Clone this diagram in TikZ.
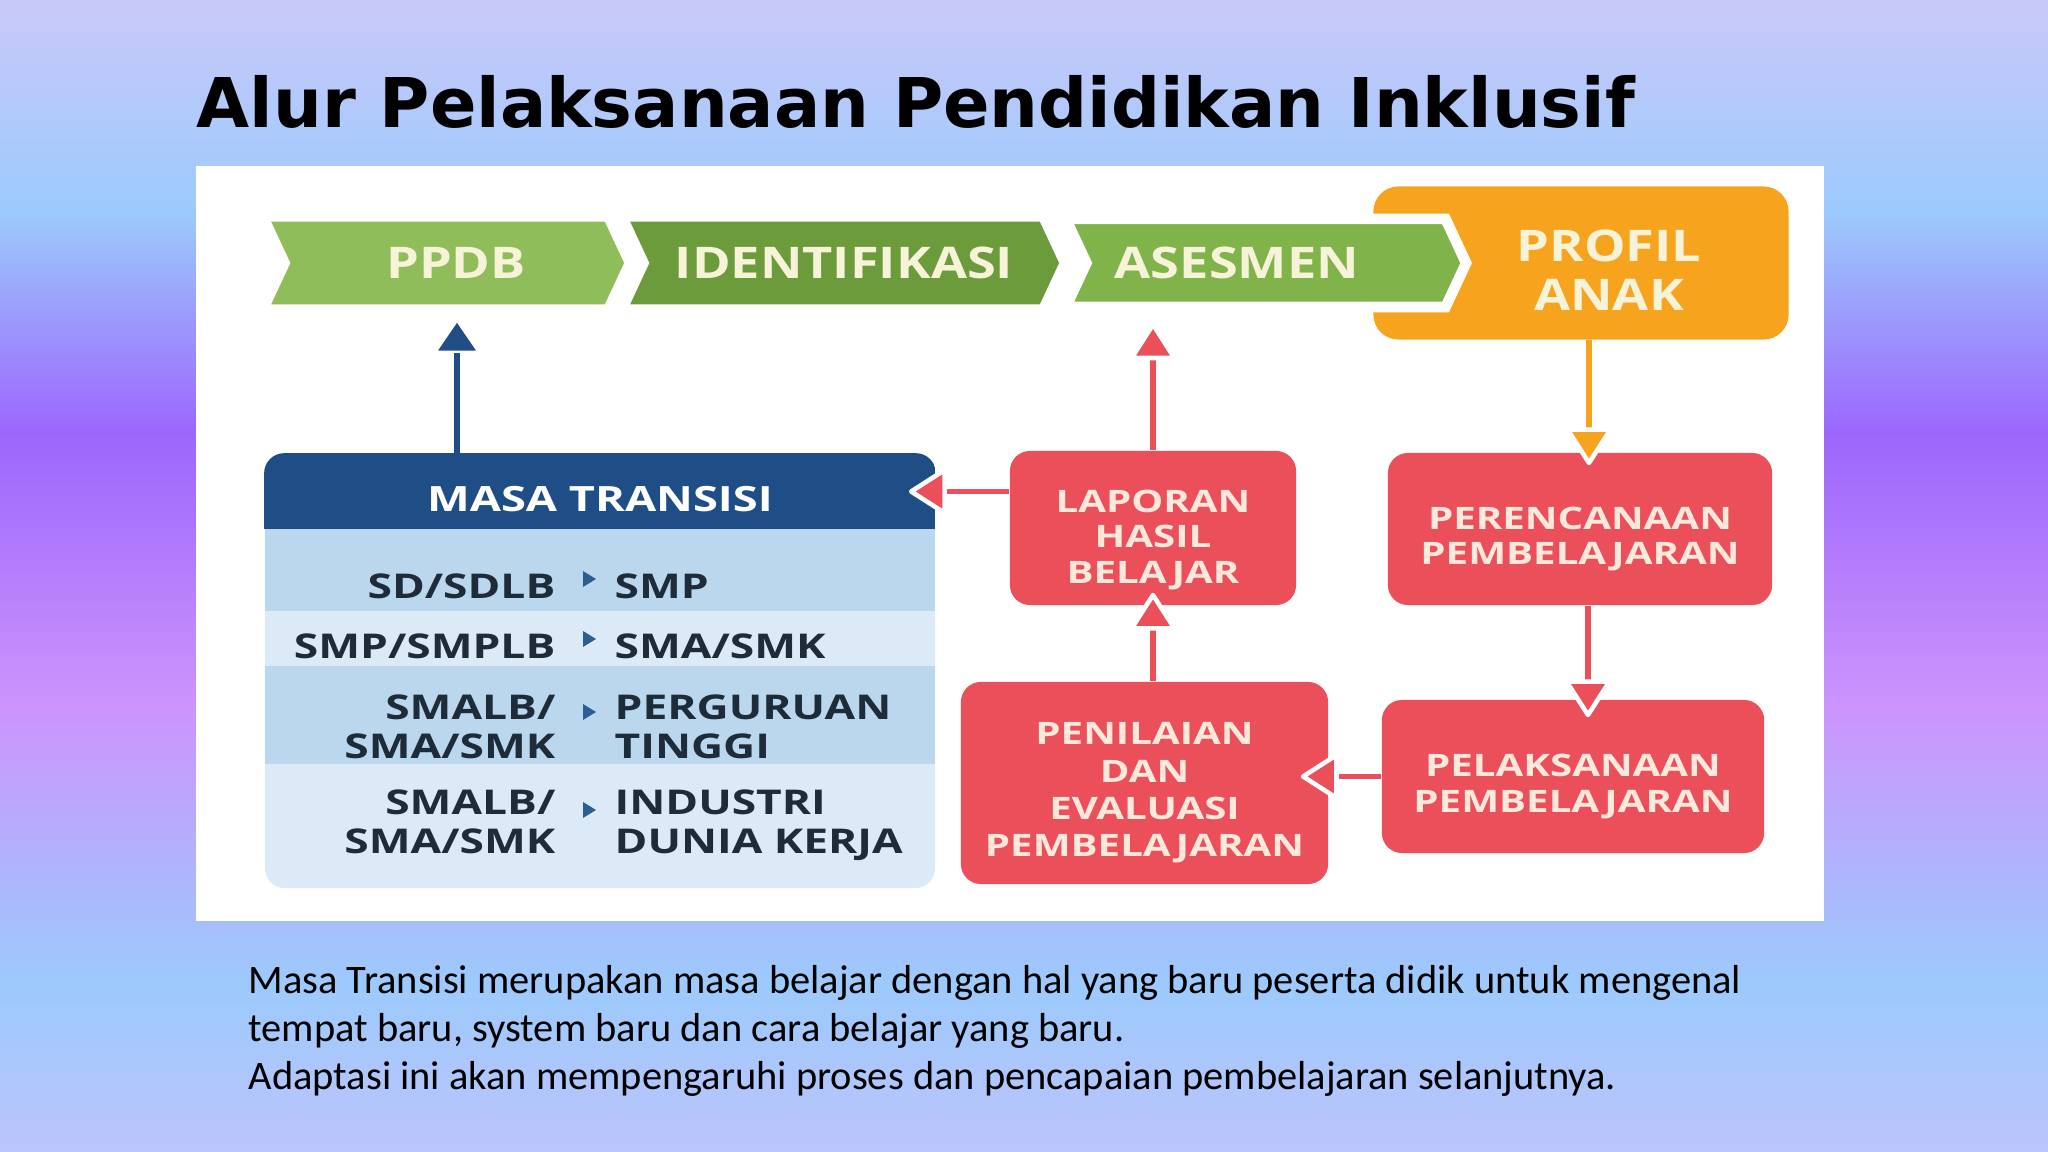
\documentclass[tikz,border=0pt]{standalone}
\usepackage{fontspec}
\usepackage{tikz}
\usetikzlibrary{shapes.geometric, shapes.symbols, arrows.meta}
\newfontfamily\titlefont{DejaVu Sans}
\newfontfamily\boxfont[FakeStretch=1.3]{Open Sans}
\newfontfamily\chevfont[FakeStretch=1.2]{Open Sans}
\newfontfamily\bodyfont{Carlito}
\definecolor{bgA}{HTML}{C9C9F9}
\definecolor{bgB}{HTML}{9CCAFC}
\definecolor{bgC}{HTML}{9C66FC}
\definecolor{bgD}{HTML}{CC94FC}
\definecolor{bgE}{HTML}{BCC4FC}
\definecolor{greenA}{HTML}{8FBD5A}
\definecolor{greenB}{HTML}{6B9B3B}
\definecolor{greenC}{HTML}{80B34A}
\definecolor{chevtext}{HTML}{F6F3D8}
\definecolor{orangeA}{HTML}{F6A41D}
\definecolor{redA}{HTML}{EA4F5A}
\definecolor{creamA}{HTML}{FDE9DC}
\definecolor{blueA}{HTML}{1F4E87}
\definecolor{rowdark}{HTML}{BAD7EE}
\definecolor{rowlight}{HTML}{DBEAF6}
\definecolor{txtdark}{HTML}{1E2B38}
\definecolor{triblue}{HTML}{2B5F94}
\tikzstyle{chev} = [signal, signal to=east, signal from=west,
signal pointer angle=130,
minimum height=0.88cm,
inner sep=0pt,
draw=white, line width=1.5pt]
\tikzstyle{chevtxt} = [text=chevtext, align=center,
font=\chevfont\bfseries\fontsize{12.4}{13.8}\selectfont]
\tikzstyle{redbox} = [rectangle, rounded corners=0.2cm,
fill=redA]
\tikzstyle{redtext} = [text=creamA, align=center, yshift=-0.1cm,
font=\boxfont\bfseries\fontsize{8.8}{10}\selectfont]
\tikzstyle{rowtext} = [inner sep=0pt, text=txtdark,
font=\boxfont\bfseries\fontsize{9.7}{11}\selectfont]
\tikzstyle{body} = [anchor=base west, inner sep=0pt,
font=\bodyfont\fontsize{11.5}{14}\selectfont]
\tikzstyle{bluearrow} = [draw=blueA, line width=1.6pt,
-{Triangle[width=0.46cm, length=0.34cm, fill=blueA, color=white, line width=0.6pt, round]}]
\tikzstyle{redarrow} = [draw=redA, line width=1.5pt,
-{Triangle[width=0.5cm, length=0.4cm, fill=redA, color=white, line width=1.3pt, round]}]
\tikzstyle{orangearrow} = [draw=orangeA, line width=1.5pt,
-{Triangle[width=0.5cm, length=0.4cm, fill=orangeA, color=white, line width=1.3pt, round]}]

\begin{document}
\begin{tikzpicture}[x=0.01cm, y=-0.01cm]
            \useasboundingbox (0,0) rectangle (2048,1152);
            % background bands
            \shade[top color=bgA, bottom color=bgB] (0,0) rectangle (2048,213);
            \shade[top color=bgB, bottom color=bgC] (0,213) rectangle (2048,433);
            \shade[top color=bgC, bottom color=bgD] (0,433) rectangle (2048,705);
            \shade[top color=bgD, bottom color=bgB] (0,705) rectangle (2048,985);
            \shade[top color=bgB, bottom color=bgE] (0,985) rectangle (2048,1152);
            \fill[white] (196,166) rectangle (1824,921);

            \node (title) [anchor=base west, inner sep=0pt, font=\titlefont\bfseries\fontsize{19.5}{23}\selectfont] at (196,128) {Alur Pelaksanaan Pendidikan Inklusif};

            % top row
            \node (ppdb) [chev, fill=greenA, minimum width=3.6cm, label={[chevtxt, xshift=0.09cm]center:PPDB}] at (447,263) {};
            \node (iden) [chev, fill=greenB, minimum width=4.36cm, label={[chevtxt]center:IDENTIFIKASI}] at (844,263) {};
            \node (prof) [rectangle, rounded corners=0.25cm, fill=orangeA, minimum width=4.15cm, minimum height=1.53cm] at (1581,263) {};
            \node (ases) [chev, fill=greenC, minimum width=4.0cm, line width=3pt, label={[chevtxt, xshift=-0.29cm]center:ASESMEN}] at (1266,263) {};
            \node (proftext) [chevtxt, yshift=-0.07cm] at ([xshift=0.28cm]prof.center) {PROFIL\\ANAK};

            % masa transisi
            \node (mt) [rectangle, rounded corners=0.2cm, fill=rowlight, minimum width=6.7cm, minimum height=4.34cm] at (600,671) {};
            \begin{scope}
                \clip[rounded corners=0.2cm] (mt.north west) rectangle (mt.south east);
                \fill[blueA] (mt.north west) rectangle (935,529);
                \fill[rowdark] (265,529) rectangle (935,611);
                \fill[rowdark] (265,666) rectangle (935,764);
            \end{scope}
            \node (mthead) [minimum width=6.7cm, minimum height=0.75cm, label={[text=white, yshift=-0.08cm, font=\boxfont\bfseries\fontsize{9.9}{11}\selectfont]center:MASA TRANSISI}] at (600,491.5) {};

            \node (a1) [rowtext, anchor=base east] at (556,598) {SD/SDLB};
            \node (b1) [rowtext, anchor=base west] at (614,598) {SMP};
            \node (a2) [rowtext, anchor=base east] at (556,658) {SMP/SMPLB};
            \node (b2) [rowtext, anchor=base west] at (614,658) {SMA/SMK};
            \node (a3) [rowtext, anchor=base east] at (556,719) {SMALB/};
            \node (a3b) [rowtext, anchor=base east] at (556,758) {SMA/SMK};
            \node (b3) [rowtext, anchor=base west] at (614,719) {PERGURUAN};
            \node (b3b) [rowtext, anchor=base west] at (614,758) {TINGGI};
            \node (a4) [rowtext, anchor=base east] at (556,814) {SMALB/};
            \node (a4b) [rowtext, anchor=base east] at (556,853) {SMA/SMK};
            \node (b4) [rowtext, anchor=base west] at (614,814) {INDUSTRI};
            \node (b4b) [rowtext, anchor=base west] at (614,853) {DUNIA KERJA};
            \fill[triblue] (583,571) -- (596,579) -- (583,587) -- cycle;
            \fill[triblue] (583,631) -- (596,639) -- (583,647) -- cycle;
            \fill[triblue] (583,704) -- (596,712) -- (583,720) -- cycle;
            \fill[triblue] (583,802) -- (596,810) -- (583,818) -- cycle;

            % red boxes
            \node (lap) [redbox, minimum width=2.86cm, minimum height=1.54cm, label={[redtext, yshift=-0.02cm]center:LAPORAN\\HASIL\\BELAJAR}] at (1153,528) {};
            \node (ren) [redbox, minimum width=3.84cm, minimum height=1.52cm, label={[redtext]center:PERENCANAAN\\PEMBELAJARAN}] at (1580,529) {};
            \node (nil) [redbox, minimum width=3.67cm, minimum height=2.02cm, label={[redtext, font=\boxfont\bfseries\fontsize{8.8}{10.6}\selectfont]center:PENILAIAN\\DAN\\EVALUASI\\PEMBELAJARAN}] at (1144.5,783) {};
            \node (pel) [redbox, minimum width=3.82cm, minimum height=1.53cm, label={[redtext]center:PELAKSANAAN\\PEMBELAJARAN}] at (1573,776.5) {};

            \draw [bluearrow] ([xshift=0.1cm]mthead.north -| ppdb.south) -- ([xshift=0.1cm, yshift=-0.1cm]ppdb.south);
            \draw [redarrow] (lap.north) -- ([yshift=-0.1cm]ases.south -| lap.north);
            \draw [redarrow, shorten >=-0.27cm] (lap.west |- mthead.east) -- (mthead.east);
            \draw [redarrow] (nil.north -| lap.south) -- ([yshift=0.13cm]lap.south);
            \draw [orangearrow, shorten >=-0.13cm] ([xshift=0.08cm]prof.south) -- ([xshift=0.08cm]prof.south |- ren.north);
            \draw [redarrow, shorten >=-0.18cm] ([xshift=0.08cm]ren.south) -- ([xshift=0.08cm]ren.south |- pel.north);
            \draw [redarrow, shorten >=-0.28cm] (pel.west) -- (pel.west -| nil.east);

            \node (f1) [body] at (248,993) {Masa Transisi merupakan masa belajar dengan hal yang baru peserta didik untuk mengenal};
            \node (f2) [body] at (248,1041) {tempat baru, system baru dan cara belajar yang baru.};
            \node (f3) [body] at (248,1089) {Adaptasi ini akan mempengaruhi proses dan pencapaian pembelajaran selanjutnya.};
\end{tikzpicture}
\end{document}
